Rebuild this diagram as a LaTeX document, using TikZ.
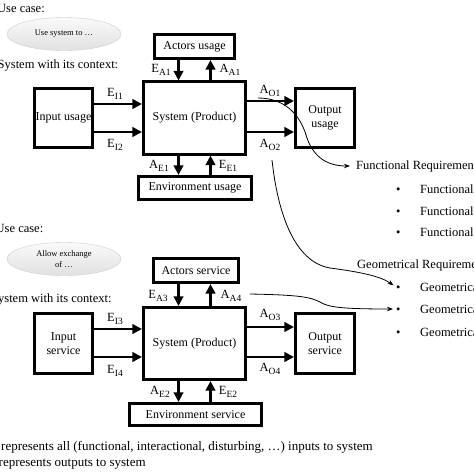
\documentclass[tikz,border=0pt]{standalone}
\usepackage{fontspec}
\setmainfont{Liberation Serif}
\usetikzlibrary{arrows.meta,shapes.geometric}

\newcommand\flowsub[1]{\raisebox{-2.6pt}{\fontsize{9.5}{9.5}\selectfont #1}}

\tikzset{
  box/.style={draw, line width=2.6pt, inner sep=0pt, align=center,
    font=\fontsize{12}{14}\selectfont},
  flow/.style={line width=2.2pt, -{Triangle[length=9.5pt,width=9.5pt]}},
  lbl/.style={inner sep=0pt, font=\fontsize{12.5}{14}\selectfont},
  txt/.style={anchor=west, inner sep=0pt, font=\fontsize{12.5}{15}\selectfont},
  usecase/.style={ellipse, draw=gray!40, top color=gray!4, bottom color=gray!24,
    minimum width=114pt, minimum height=33pt, inner sep=0pt, align=center,
    font=\fontsize{8.5}{11}\selectfont},
  trace/.style={line width=0.8pt, -{Stealth[length=6pt,width=4.5pt]}},
}

\begin{document}
\begin{tikzpicture}[x=1pt,y=-1pt]
\useasboundingbox (0,0) rectangle (474,474);
\clip (0,0) rectangle (474,474);
\fill[white] (0,0) rectangle (474,474);

% first use case: usage
\node[txt] (uc1) at (-3,8) {Use case:};
\node[usecase] (goal1) at (64,34) {Use system to …};
\node[txt] (ctx1) at (-2.5,66) {System with its context:};

\node[box, minimum width=80.5pt, minimum height=24.5pt] (actU) at (194.5,46.5) {Actors usage};
\node[box, minimum width=102.5pt, minimum height=72.5pt] (sysU) at (194.5,118) {System (Product)};
\node[box, minimum width=58.5pt, minimum height=59.5pt] (inU) at (63.5,118) {Input usage};
\node[box, minimum width=113.5pt, minimum height=23.5pt] (envU) at (195,188) {Environment usage};
\node[box, minimum width=59.5pt, minimum height=59.5pt] (outU) at (325,118) {Output\\usage};

\path (sysU.north) ++(-16,0) coordinate (ea1);
\path (sysU.north) ++(16,0) coordinate (aa1);
\path (sysU.south) ++(-16,0) coordinate (ae1);
\path (sysU.south) ++(16,0) coordinate (ee1);
\draw[flow] (actU.south -| ea1) -- (ea1);
\draw[flow] (aa1) -- (actU.south -| aa1);
\draw[flow] (ae1) -- (envU.north -| ae1);
\draw[flow] (envU.north -| ee1) -- (ee1);

\path (inU.east) ++(0,-14) coordinate (ei1);
\path (inU.east) ++(0,14) coordinate (ei2);
\path (sysU.east) ++(0,-17) coordinate (ao1);
\path (sysU.east) ++(0,14) coordinate (ao2);
\draw[flow] (ei1) -- (ei1 -| sysU.west);
\draw[flow] (ei2) -- (ei2 -| sysU.west);
\draw[flow] (ao1) -- (ao1 -| outU.west);
\draw[flow] (ao2) -- (ao2 -| outU.west);

\node[lbl] (lea1) at (161,70) {E\flowsub{A1}};
\node[lbl] (laa1) at (230,70) {A\flowsub{A1}};
\node[lbl] (lae1) at (159,166) {A\flowsub{E1}};
\node[lbl] (lee1) at (228,166) {E\flowsub{E1}};
\node[lbl] (lei1) at (115,94) {E\flowsub{I1}};
\node[lbl] (lei2) at (115,145) {E\flowsub{I2}};
\node[lbl] (lao1) at (270,91) {A\flowsub{O1}};
\node[lbl] (lao2) at (270,145) {A\flowsub{O2}};

% second use case: service
\node[txt] (uc2) at (-4.5,228) {Use case:};
\node[usecase] (goal2) at (64,259) {Allow exchange\\of …};
\node[txt] (ctx2) at (-9,300) {System with its context:};

\node[box, minimum width=85.5pt, minimum height=24.5pt] (actS) at (196,270.5) {Actors service};
\node[box, minimum width=102.5pt, minimum height=72.5pt] (sysS) at (194.5,343.5) {System (Product)};
\node[box, minimum width=58.5pt, minimum height=60.5pt] (inS) at (63.5,343.5) {Input\\service};
\node[box, minimum width=132.5pt, minimum height=22.5pt] (envS) at (195.5,414.5) {Environment service};
\node[box, minimum width=59.5pt, minimum height=59.5pt] (outS) at (325,343.5) {Output\\service};

\path (sysS.north) ++(-16,0) coordinate (ea3);
\path (sysS.north) ++(16,0) coordinate (aa4);
\path (sysS.south) ++(-16,0) coordinate (ae2);
\path (sysS.south) ++(16,0) coordinate (ee2);
\draw[flow] (actS.south -| ea3) -- (ea3);
\draw[flow] (aa4) -- (actS.south -| aa4);
\draw[flow] (ae2) -- (envS.north -| ae2);
\draw[flow] (envS.north -| ee2) -- (ee2);

\path (inS.east) ++(0,-14.5) coordinate (ei3);
\path (inS.east) ++(0,13.5) coordinate (ei4);
\path (sysS.east) ++(0,-16.5) coordinate (ao3);
\path (sysS.east) ++(0,13.5) coordinate (ao4);
\draw[flow] (ei3) -- (ei3 -| sysS.west);
\draw[flow] (ei4) -- (ei4 -| sysS.west);
\draw[flow] (ao3) -- (ao3 -| outS.west);
\draw[flow] (ao4) -- (ao4 -| outS.west);

\node[lbl] (lea3) at (158,296) {E\flowsub{A3}};
\node[lbl] (laa4) at (231,296) {A\flowsub{A4}};
\node[lbl] (lae2) at (160,392) {A\flowsub{E2}};
\node[lbl] (lee2) at (228,392) {E\flowsub{E2}};
\node[lbl] (lei3) at (115,319) {E\flowsub{I3}};
\node[lbl] (lei4) at (115,371) {E\flowsub{I4}};
\node[lbl] (lao3) at (270,315) {A\flowsub{O3}};
\node[lbl] (lao4) at (270,369) {A\flowsub{O4}};

% requirement lists
\node[txt] (fr) at (356,166) {Functional Requirements};
\foreach \y [count=\i] in {189,211,232}
  \node[txt] (fb\i) at (396,\y) {\makebox[24pt][l]{\textbullet}Functional};
\node[txt] (gr) at (357,265) {Geometrical Requirements};
\foreach \y [count=\i] in {287,309,332}
  \node[txt] (gb\i) at (396,\y) {\makebox[24pt][l]{\textbullet}Geometrical};

% traces from flows to requirements
\coordinate (c1) at (258,98);
\coordinate (c2) at (272,160);
\coordinate (c3) at (250,294);
\draw[trace, shorten >=6pt] (c1) .. controls (285,98) and (300,115) .. (306,135)
  .. controls (312,155) and (325,166) .. (fr.west);
\draw[trace, shorten >=3pt] (c2) .. controls (278,215) and (295,262) .. (330,268)
  .. controls (360,272) and (380,276) .. (gb1.west);
\draw[trace, shorten >=3pt] (c3) .. controls (300,295) and (310,297) .. (320,302)
  .. controls (328,307) and (340,309) .. (gb2.west);

% key
\node[txt, font=\fontsize{13}{15}\selectfont] (key1) at (1,447)
  {represents all (functional, interactional, disturbing, …) inputs to system};
\node[txt, font=\fontsize{13}{15}\selectfont] (key2) at (-1.5,464)
  {represents outputs to system};
\end{tikzpicture}
\end{document}
